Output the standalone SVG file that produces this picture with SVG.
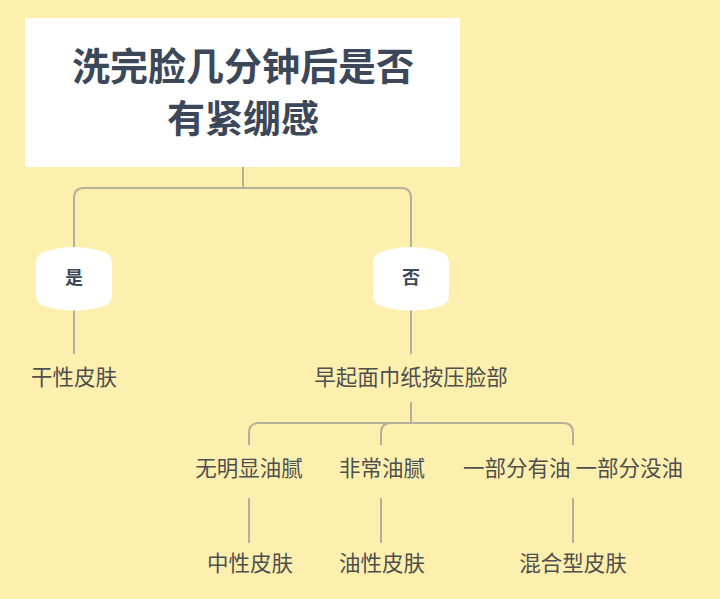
<svg xmlns="http://www.w3.org/2000/svg" width="720" height="599" viewBox="0 0 720 599">
<style>
.bg{fill:#fdf0ae}
.title{font-family:"Noto Sans CJK SC","Noto Sans",sans-serif;font-weight:bold;font-size:38px;fill:#3c4859;text-anchor:middle}
.tag{font-family:"Noto Sans CJK SC",sans-serif;font-weight:bold;font-size:18px;fill:#3c4859;text-anchor:middle}
.lbl{font-family:"Noto Sans CJK SC",sans-serif;font-size:21.5px;fill:#4f4f4f;text-anchor:middle}
.conn{fill:none;stroke:#b4b09c;stroke-width:2}
.box{fill:#ffffff}
</style>
<rect class="bg" x="0" y="0" width="720" height="599"/>
<g id="connectors">
<path class="conn" d="M243 166 V188"/>
<path class="conn" d="M74 248 V198 Q74 188 84 188 H401 Q411 188 411 198 V248"/>
<path class="conn" d="M74 310 V354"/>
<path class="conn" d="M411 310 V354"/>
<path class="conn" d="M411 402 V423"/>
<path class="conn" d="M249 445 V433 Q249 423 259 423 H563 Q573 423 573 433 V445"/>
<path class="conn" d="M381 445 V433 Q381 423 391 423"/>
<path class="conn" d="M249 498 V543"/>
<path class="conn" d="M381 498 V543"/>
<path class="conn" d="M573 498 V543"/>
</g>
<g id="root">
<rect class="box" x="25" y="18" width="435" height="149"/>
<text class="title" x="243" y="80">洗完脸几分钟后是否</text>
<text class="title" x="243" y="132">有紧绷感</text>
</g>
<g id="yes">
<path class="box" d="M44 252 Q74 242 104 252 Q112 254 112 264 L112 294 Q112 304 104 306 Q74 315 44 306 Q36 304 36 294 L36 264 Q36 254 44 252 Z"/>
<text class="tag" x="74" y="284">是</text>
</g>
<g id="no">
<path class="box" d="M381 252 Q411 242 441 252 Q449 254 449 264 L449 294 Q449 304 441 306 Q411 315 381 306 Q373 304 373 294 L373 264 Q373 254 381 252 Z"/>
<text class="tag" x="411" y="284">否</text>
</g>
<g id="dry"><text class="lbl" x="74" y="385">干性皮肤</text></g>
<g id="tissue"><text class="lbl" x="411" y="385">早起面巾纸按压脸部</text></g>
<g id="noOil"><text class="lbl" x="249" y="476">无明显油腻</text></g>
<g id="veryOily"><text class="lbl" x="382" y="476">非常油腻</text></g>
<g id="partOily"><text class="lbl" x="573" y="476">一部分有油 一部分没油</text></g>
<g id="normal"><text class="lbl" x="250" y="571">中性皮肤</text></g>
<g id="oily"><text class="lbl" x="382" y="571">油性皮肤</text></g>
<g id="combo"><text class="lbl" x="573" y="571">混合型皮肤</text></g>
</svg>
